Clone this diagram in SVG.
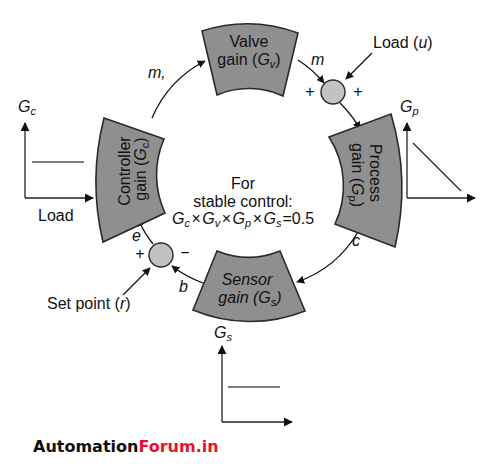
<svg xmlns="http://www.w3.org/2000/svg" width="500" height="472" viewBox="0 0 500 472">
<style>
text{font-family:"Liberation Sans",Arial,sans-serif;font-size:16px;fill:#111}
.it{font-style:italic}
.sub{font-size:11px}
.blk{fill:#8f8f8f;stroke:#2a2a2a;stroke-width:1.6}
.sum{fill:#c2c2c2;stroke:#2a2a2a;stroke-width:1.4}
.ring{fill:none;stroke:#111;stroke-width:1.3}
.ax{fill:none;stroke:#222;stroke-width:1.3}
.lvl{fill:none;stroke:#555;stroke-width:1.6}
.brand{font-family:"DejaVu Sans",Verdana,sans-serif;font-weight:bold;font-size:16px}
</style>
<defs>
<marker id="ah" viewBox="0 0 10 10" refX="9" refY="5" markerWidth="8" markerHeight="8" markerUnits="userSpaceOnUse" orient="auto">
<path d="M0,0 L10,5 L0,10 z" fill="#111"/>
</marker>
<marker id="ax" viewBox="0 0 10 10" refX="9" refY="5" markerWidth="9" markerHeight="9" markerUnits="userSpaceOnUse" orient="auto">
<path d="M0,0 L10,5 L0,10 z" fill="#111"/>
</marker>
</defs>

<g id="connectors">
<path class="ring" d="M152,118 A115,115 0 0 1 205,61" marker-end="url(#ah)"/>
<path class="ring" d="M298,60 A115,115 0 0 1 324,83" marker-end="url(#ah)"/>
<path class="ring" d="M340,103 A115,115 0 0 1 360,129" marker-end="url(#ah)"/>
<path class="ring" d="M358,232 A115,115 0 0 1 297,282" marker-end="url(#ah)"/>
<path class="ring" d="M203,283 A115,115 0 0 1 172,266" marker-end="url(#ah)"/>
<path class="ring" d="M153,244 A115,115 0 0 1 138,219" marker-end="url(#ah)"/>
<line class="ring" x1="372" y1="53" x2="346" y2="79" marker-end="url(#ah)"/>
<line class="ring" x1="123" y1="295" x2="150" y2="268" marker-end="url(#ah)"/>
</g>

<g id="valve">
<path class="blk" d="M202,31 A148,148 0 0 1 298,33 L283,96 A82,82 0 0 0 217,95 Z"/>
<text x="249" y="47" text-anchor="middle">Valve</text>
<text x="249" y="65" text-anchor="middle">gain (<tspan class="it">G</tspan><tspan class="it sub" dy="3">v</tspan><tspan dy="-3">)</tspan></text>
</g>

<g id="controller">
<path class="blk" d="M104,118 L164,139 A90,90 0 0 0 165,213 L103,242 A260,260 0 0 1 104,118 Z"/>
<text transform="translate(130,171) rotate(-90)" text-anchor="middle">Controller</text>
<text transform="translate(146,169) rotate(-90)" text-anchor="middle">gain (<tspan class="it">G</tspan><tspan class="sub" dy="3">c</tspan><tspan dy="-3">)</tspan></text>
</g>

<g id="process">
<path class="blk" d="M329,137 L391,114 A260,260 0 0 1 395,247 L335,224 A90,90 0 0 0 329,137 Z"/>
<text transform="translate(370,173) rotate(90)" text-anchor="middle">Process</text>
<text transform="translate(352,175) rotate(90)" text-anchor="middle">gain (<tspan class="it">G</tspan><tspan class="sub" dy="3">p</tspan><tspan dy="-3">)</tspan></text>
</g>

<g id="sensor">
<path class="blk" d="M217,251 A84,84 0 0 0 280,251 L305,311 A148,148 0 0 1 193,310 Z"/>
<text class="it" x="247" y="285" text-anchor="middle">Sensor</text>
<text class="it" x="250" y="303" text-anchor="middle">gain (G<tspan class="sub" dy="3">s</tspan><tspan dy="-3">)</tspan></text>
</g>

<g id="sum-top">
<circle class="sum" cx="333" cy="92" r="12"/>
<text x="310" y="97" text-anchor="middle">+</text>
<text x="358" y="97" text-anchor="middle">+</text>
</g>

<g id="sum-bottom">
<circle class="sum" cx="161" cy="255" r="12"/>
<text x="140" y="259" text-anchor="middle">+</text>
<text x="185" y="258" text-anchor="middle">−</text>
</g>

<g id="labels">
<text class="it" x="148" y="78">m,</text>
<text class="it" x="311" y="65">m</text>
<text class="it" x="352" y="246">c</text>
<text class="it" x="132" y="241">e</text>
<text class="it" x="179" y="292">b</text>
<text x="373" y="48">Load (<tspan class="it">u</tspan>)</text>
<text x="47" y="309">Set point (<tspan class="it">r</tspan>)</text>
</g>

<g id="center-text">
<text x="243" y="189" text-anchor="middle">For</text>
<text x="243" y="207" text-anchor="middle">stable control:</text>
<text x="243" y="224" text-anchor="middle"><tspan class="it">G</tspan><tspan class="it sub" dy="3">c</tspan><tspan dy="-3" dx="1.5">×</tspan><tspan class="it" dx="1.5">G</tspan><tspan class="it sub" dy="3">v</tspan><tspan dy="-3" dx="1.5">×</tspan><tspan class="it" dx="1.5">G</tspan><tspan class="it sub" dy="3">p</tspan><tspan dy="-3" dx="1.5">×</tspan><tspan class="it" dx="1.5">G</tspan><tspan class="it sub" dy="3">s</tspan><tspan dy="-3" dx="1">=0.5</tspan></text>
</g>

<g id="graph-gc">
<path class="ax" d="M25,198 L25,123" marker-end="url(#ax)"/>
<path class="ax" d="M25,198 L93,198" marker-end="url(#ax)"/>
<line class="lvl" x1="32" y1="162" x2="84" y2="162"/>
<text class="it" x="18" y="112">G<tspan class="sub" dy="3">c</tspan></text>
<text x="38" y="221">Load</text>
</g>

<g id="graph-gp">
<path class="ax" d="M407,198 L407,123" marker-end="url(#ax)"/>
<path class="ax" d="M407,198 L475,198" marker-end="url(#ax)"/>
<line class="ax" x1="413" y1="143" x2="461" y2="191"/>
<text class="it" x="400" y="112">G<tspan class="sub" dy="3">p</tspan></text>
</g>

<g id="graph-gs">
<path class="ax" d="M222,422 L222,346" marker-end="url(#ax)"/>
<path class="ax" d="M222,422 L292,422" marker-end="url(#ax)"/>
<line class="lvl" x1="228" y1="387" x2="280" y2="387"/>
<text class="it" x="214" y="338">G<tspan class="sub" dy="3">s</tspan></text>
</g>

<g id="brand">
<text class="brand" x="33" y="452"><tspan fill="#111">Automation</tspan><tspan fill="#e8112d">Forum.in</tspan></text>
</g>
</svg>
